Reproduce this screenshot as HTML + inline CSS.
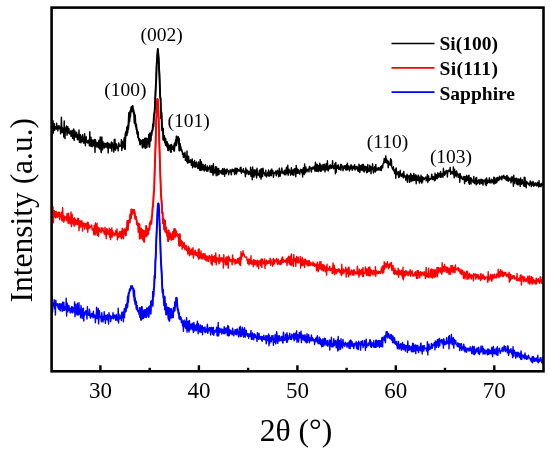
<!DOCTYPE html>
<html><head><meta charset="utf-8"><style>
html,body{margin:0;padding:0;background:#fff;}
svg{display:block;}
text{font-family:"Liberation Serif", "Times New Roman", serif;fill:#000;}
</style></head><body>
<svg width="550" height="453" viewBox="0 0 550 453">
<rect x="0" y="0" width="550" height="453" fill="#fff"/>
<g fill="none" stroke-linejoin="round" stroke-width="1.4">
<polyline stroke="#0000ff" points="52.2,296.2 52.6,311.7 53.0,303.0 53.4,305.2 53.8,305.8 54.2,299.7 54.6,308.7 55.0,303.4 55.4,315.0 55.8,300.2 56.2,304.2 56.6,305.5 57.0,304.2 57.4,303.8 57.8,306.6 58.2,308.1 58.6,304.3 59.0,309.4 59.4,303.7 59.8,306.6 60.2,310.9 60.6,305.1 61.0,303.7 61.4,306.8 61.8,308.5 62.2,311.5 62.6,302.2 63.0,306.5 63.4,310.4 63.8,302.3 64.2,307.8 64.6,310.4 65.0,307.4 65.4,306.5 65.8,309.3 66.2,298.3 66.6,316.0 67.0,302.9 67.4,304.5 67.8,311.9 68.2,309.7 68.6,305.5 69.0,305.8 69.4,310.5 69.8,308.3 70.2,313.0 70.6,308.5 71.0,308.1 71.4,312.1 71.8,306.4 72.2,306.8 72.6,312.9 73.0,310.2 73.4,307.9 73.8,307.8 74.2,312.0 74.6,302.0 75.0,316.8 75.4,310.5 75.8,304.5 76.2,313.7 76.6,307.6 77.0,314.9 77.4,303.3 77.8,312.0 78.2,315.0 78.6,313.5 79.0,302.7 79.4,314.0 79.8,313.6 80.2,309.3 80.6,317.8 81.0,305.5 81.4,315.4 81.8,308.4 82.2,318.5 82.6,309.8 83.0,311.5 83.4,308.1 83.8,321.0 84.2,312.1 84.6,313.9 85.0,315.1 85.4,312.1 85.8,310.7 86.2,312.1 86.6,312.5 87.0,319.1 87.4,306.8 87.8,314.6 88.2,313.9 88.6,315.2 89.0,315.4 89.4,309.3 89.8,311.3 90.2,317.4 90.6,318.1 91.0,314.6 91.4,313.9 91.8,313.4 92.2,316.3 92.6,313.6 93.0,317.9 93.4,311.2 93.8,317.0 94.2,314.7 94.6,317.2 95.0,315.2 95.4,322.8 95.8,315.6 96.2,317.5 96.6,307.1 97.0,318.6 97.4,314.8 97.8,318.8 98.2,308.4 98.6,323.9 99.0,317.4 99.4,310.6 99.8,315.9 100.2,315.9 100.6,318.2 101.0,318.5 101.4,321.7 101.8,312.6 102.2,319.5 102.6,316.1 103.0,322.0 103.4,316.2 103.8,319.9 104.2,311.6 104.6,318.6 105.0,315.2 105.4,323.2 105.8,316.7 106.2,315.4 106.6,316.7 107.0,319.7 107.4,314.6 107.8,316.1 108.2,320.7 108.6,324.0 109.0,312.6 109.4,316.5 109.8,315.2 110.2,315.8 110.6,321.6 111.0,319.2 111.4,316.2 111.8,318.6 112.2,317.4 112.6,317.8 113.0,312.8 113.4,318.9 113.8,318.6 114.2,315.0 114.6,317.4 115.0,315.8 115.4,317.8 115.8,320.4 116.2,314.5 116.6,317.4 117.0,319.8 117.4,317.5 117.8,320.8 118.2,308.2 118.6,323.0 119.0,313.9 119.4,318.0 119.8,318.8 120.2,318.2 120.6,317.5 121.0,314.9 121.4,320.5 121.8,312.2 122.2,315.7 122.6,317.9 123.0,311.9 123.4,321.7 123.8,313.1 124.2,317.8 124.6,308.6 125.0,310.5 125.4,311.6 125.8,311.0 126.2,304.8 126.6,308.2 127.0,303.7 127.4,306.8 127.8,296.4 128.2,301.9 128.6,293.5 129.0,293.1 129.4,292.0 129.8,289.2 130.2,290.1 130.6,288.9 131.0,286.3 131.4,287.0 131.8,288.0 132.2,286.2 132.6,288.2 133.0,288.9 133.4,288.7 133.8,296.4 134.2,290.4 134.6,301.0 135.0,298.2 135.4,304.1 135.8,301.1 136.2,302.8 136.6,308.9 137.0,305.8 137.4,309.7 137.8,310.8 138.2,310.9 138.6,311.9 139.0,310.8 139.4,314.3 139.8,308.0 140.2,317.3 140.6,311.2 141.0,319.8 141.4,316.4 141.8,307.0 142.2,318.5 142.6,314.2 143.0,312.0 143.4,318.0 143.8,312.4 144.2,310.2 144.6,316.6 145.0,314.2 145.4,314.5 145.8,310.0 146.2,317.2 146.6,314.1 147.0,308.3 147.4,312.4 147.8,312.8 148.2,310.0 148.6,316.8 149.0,307.9 149.4,306.4 149.8,308.3 150.2,309.1 150.6,313.6 151.0,301.5 151.4,305.3 151.8,304.4 152.2,300.5 152.6,305.8 153.0,291.6 153.4,296.6 153.8,289.1 154.2,286.4 154.6,275.5 155.0,278.1 155.4,261.6 155.8,255.1 156.2,242.8 156.6,233.3 157.0,224.2 157.4,213.9 157.8,206.2 158.2,203.5 158.6,203.9 159.0,209.0 159.4,219.3 159.8,228.9 160.2,239.1 160.6,252.2 161.0,262.4 161.4,268.4 161.8,276.0 162.2,285.9 162.6,292.7 163.0,289.6 163.4,296.8 163.8,299.3 164.2,305.5 164.6,296.6 165.0,309.5 165.4,309.4 165.8,303.6 166.2,314.5 166.6,308.9 167.0,308.2 167.4,312.9 167.8,307.4 168.2,313.6 168.6,319.2 169.0,308.1 169.4,320.7 169.8,311.2 170.2,317.7 170.6,313.5 171.0,309.0 171.4,317.6 171.8,316.9 172.2,311.7 172.6,313.0 173.0,317.3 173.4,310.5 173.8,307.7 174.2,310.3 174.6,310.7 175.0,302.1 175.4,306.1 175.8,303.8 176.2,298.0 176.6,297.8 177.0,300.8 177.4,307.0 177.8,310.1 178.2,309.7 178.6,314.0 179.0,313.0 179.4,318.5 179.8,316.6 180.2,319.3 180.6,317.2 181.0,318.7 181.4,322.6 181.8,319.5 182.2,321.3 182.6,325.9 183.0,321.3 183.4,331.2 183.8,321.0 184.2,320.2 184.6,326.9 185.0,323.6 185.4,321.7 185.8,328.6 186.2,320.6 186.6,317.6 187.0,332.2 187.4,322.1 187.8,330.4 188.2,321.2 188.6,323.4 189.0,332.0 189.4,320.4 189.8,328.4 190.2,329.8 190.6,324.2 191.0,326.0 191.4,326.9 191.8,328.8 192.2,323.1 192.6,329.8 193.0,327.5 193.4,332.5 193.8,322.4 194.2,325.3 194.6,330.9 195.0,325.1 195.4,329.0 195.8,327.5 196.2,330.7 196.6,324.1 197.0,328.7 197.4,321.1 197.8,329.8 198.2,333.8 198.6,323.8 199.0,327.5 199.4,326.2 199.8,332.0 200.2,328.0 200.6,325.0 201.0,332.4 201.4,328.3 201.8,330.4 202.2,325.8 202.6,334.7 203.0,327.2 203.4,328.0 203.8,327.8 204.2,329.2 204.6,331.8 205.0,327.0 205.4,332.6 205.8,329.1 206.2,332.0 206.6,329.4 207.0,327.9 207.4,324.3 207.8,333.4 208.2,331.2 208.6,328.7 209.0,330.9 209.4,327.5 209.8,329.4 210.2,327.8 210.6,335.0 211.0,328.0 211.4,328.3 211.8,327.1 212.2,331.7 212.6,334.2 213.0,328.9 213.4,327.4 213.8,335.2 214.2,331.7 214.6,330.6 215.0,330.8 215.4,332.2 215.8,329.9 216.2,331.6 216.6,327.1 217.0,335.8 217.4,328.7 217.8,335.7 218.2,322.5 218.6,335.9 219.0,332.2 219.4,328.2 219.8,332.6 220.2,332.1 220.6,331.2 221.0,328.5 221.4,331.4 221.8,334.0 222.2,332.8 222.6,329.3 223.0,331.2 223.4,331.6 223.8,333.7 224.2,326.7 224.6,329.4 225.0,333.8 225.4,328.2 225.8,331.6 226.2,332.6 226.6,332.6 227.0,327.8 227.4,335.4 227.8,325.5 228.2,336.0 228.6,326.5 229.0,330.8 229.4,335.5 229.8,329.6 230.2,330.3 230.6,331.8 231.0,333.7 231.4,330.9 231.8,331.8 232.2,334.7 232.6,328.2 233.0,331.7 233.4,331.2 233.8,335.8 234.2,332.6 234.6,333.7 235.0,329.7 235.4,331.5 235.8,334.4 236.2,329.5 236.6,334.8 237.0,332.5 237.4,328.9 237.8,332.9 238.2,331.8 238.6,336.9 239.0,336.2 239.4,327.7 239.8,332.4 240.2,326.1 240.6,336.5 241.0,332.0 241.4,329.5 241.8,336.3 242.2,327.1 242.6,334.6 243.0,333.4 243.4,329.2 243.8,337.2 244.2,334.4 244.6,327.7 245.0,331.6 245.4,337.1 245.8,332.3 246.2,330.3 246.6,334.7 247.0,333.9 247.4,333.6 247.8,336.3 248.2,333.7 248.6,338.2 249.0,335.1 249.4,334.0 249.8,336.2 250.2,336.4 250.6,334.5 251.0,330.4 251.4,339.2 251.8,333.9 252.2,339.4 252.6,333.0 253.0,336.7 253.4,335.7 253.8,339.7 254.2,333.7 254.6,335.0 255.0,337.4 255.4,334.6 255.8,337.6 256.2,336.3 256.6,337.4 257.0,341.5 257.4,332.8 257.8,337.8 258.2,336.6 258.6,339.4 259.0,333.2 259.4,337.6 259.8,338.6 260.2,339.2 260.6,336.8 261.0,336.7 261.4,336.5 261.8,340.8 262.2,341.2 262.6,336.8 263.0,338.3 263.4,339.3 263.8,335.3 264.2,339.2 264.6,338.4 265.0,339.9 265.4,338.2 265.8,335.6 266.2,343.7 266.6,341.6 267.0,335.6 267.4,340.4 267.8,339.1 268.2,340.7 268.6,334.0 269.0,345.7 269.4,335.4 269.8,343.2 270.2,337.4 270.6,338.1 271.0,339.5 271.4,341.8 271.8,335.6 272.2,339.6 272.6,338.6 273.0,335.5 273.4,345.3 273.8,338.7 274.2,338.2 274.6,342.3 275.0,334.8 275.4,340.5 275.8,343.8 276.2,339.0 276.6,331.7 277.0,333.8 277.4,341.5 277.8,343.4 278.2,336.0 278.6,339.1 279.0,340.8 279.4,335.6 279.8,340.7 280.2,340.5 280.6,338.7 281.0,338.9 281.4,336.4 281.8,340.8 282.2,336.5 282.6,342.4 283.0,343.0 283.4,332.3 283.8,333.6 284.2,340.4 284.6,339.7 285.0,340.1 285.4,339.0 285.8,334.1 286.2,336.9 286.6,342.2 287.0,332.7 287.4,342.0 287.8,335.1 288.2,339.7 288.6,337.9 289.0,338.1 289.4,338.0 289.8,333.2 290.2,339.3 290.6,336.5 291.0,337.6 291.4,339.5 291.8,334.1 292.2,335.3 292.6,335.8 293.0,336.9 293.4,339.0 293.8,333.2 294.2,340.7 294.6,335.4 295.0,335.4 295.4,333.3 295.8,339.1 296.2,337.8 296.6,330.7 297.0,342.2 297.4,338.8 297.8,334.8 298.2,337.2 298.6,342.0 299.0,336.0 299.4,332.4 299.8,338.0 300.2,336.4 300.6,336.7 301.0,331.1 301.4,342.6 301.8,334.3 302.2,338.6 302.6,336.6 303.0,339.8 303.4,335.3 303.8,335.9 304.2,340.2 304.6,340.5 305.0,334.8 305.4,341.9 305.8,336.5 306.2,336.3 306.6,342.9 307.0,333.8 307.4,342.2 307.8,335.6 308.2,340.4 308.6,334.7 309.0,338.4 309.4,342.8 309.8,337.7 310.2,338.8 310.6,337.9 311.0,340.9 311.4,334.9 311.8,338.6 312.2,340.7 312.6,337.6 313.0,339.0 313.4,340.5 313.8,339.5 314.2,339.4 314.6,344.5 315.0,340.0 315.4,341.6 315.8,338.2 316.2,339.0 316.6,337.3 317.0,341.7 317.4,335.7 317.8,342.3 318.2,343.5 318.6,343.7 319.0,340.8 319.4,337.2 319.8,343.6 320.2,338.4 320.6,344.5 321.0,339.8 321.4,343.8 321.8,346.8 322.2,340.1 322.6,346.3 323.0,338.8 323.4,340.9 323.8,346.0 324.2,344.6 324.6,338.3 325.0,343.5 325.4,338.8 325.8,344.3 326.2,345.3 326.6,341.3 327.0,341.7 327.4,340.4 327.8,346.2 328.2,344.7 328.6,343.6 329.0,343.2 329.4,339.9 329.8,350.0 330.2,340.8 330.6,343.4 331.0,345.8 331.4,337.2 331.8,346.9 332.2,343.6 332.6,345.0 333.0,346.7 333.4,343.0 333.8,338.6 334.2,345.8 334.6,345.0 335.0,344.0 335.4,340.5 335.8,341.7 336.2,347.9 336.6,344.0 337.0,343.4 337.4,339.6 337.8,351.1 338.2,336.5 338.6,347.5 339.0,349.8 339.4,340.5 339.8,344.9 340.2,340.7 340.6,349.3 341.0,338.8 341.4,346.7 341.8,344.1 342.2,341.3 342.6,348.0 343.0,339.4 343.4,344.7 343.8,345.3 344.2,343.4 344.6,346.2 345.0,346.0 345.4,342.3 345.8,343.6 346.2,344.1 346.6,344.4 347.0,347.2 347.4,342.9 347.8,346.0 348.2,343.9 348.6,342.7 349.0,348.2 349.4,340.9 349.8,346.4 350.2,348.5 350.6,339.9 351.0,346.3 351.4,341.0 351.8,346.0 352.2,341.9 352.6,346.2 353.0,344.1 353.4,346.0 353.8,348.6 354.2,343.2 354.6,346.1 355.0,343.8 355.4,344.4 355.8,343.2 356.2,341.6 356.6,347.7 357.0,348.8 357.4,343.6 357.8,342.8 358.2,349.8 358.6,341.3 359.0,344.0 359.4,342.7 359.8,344.2 360.2,345.6 360.6,350.1 361.0,341.3 361.4,342.5 361.8,344.8 362.2,345.1 362.6,340.8 363.0,347.6 363.4,346.2 363.8,344.4 364.2,345.6 364.6,340.5 365.0,342.3 365.4,350.3 365.8,345.3 366.2,339.1 366.6,347.3 367.0,344.2 367.4,345.8 367.8,344.1 368.2,342.9 368.6,345.6 369.0,344.5 369.4,344.0 369.8,339.8 370.2,339.7 370.6,346.8 371.0,341.4 371.4,347.3 371.8,345.6 372.2,343.8 372.6,342.9 373.0,344.9 373.4,346.9 373.8,340.6 374.2,347.5 374.6,344.5 375.0,343.7 375.4,347.2 375.8,340.1 376.2,347.3 376.6,340.2 377.0,343.3 377.4,342.3 377.8,346.4 378.2,340.6 378.6,345.0 379.0,340.5 379.4,347.5 379.8,346.0 380.2,340.7 380.6,346.3 381.0,341.3 381.4,346.5 381.8,338.7 382.2,337.3 382.6,346.9 383.0,338.0 383.4,337.7 383.8,339.5 384.2,336.1 384.6,340.6 385.0,335.7 385.4,342.8 385.8,336.6 386.2,331.6 386.6,335.0 387.0,336.7 387.4,331.8 387.8,338.0 388.2,335.4 388.6,333.5 389.0,335.2 389.4,337.6 389.8,338.6 390.2,337.8 390.6,334.6 391.0,339.2 391.4,334.6 391.8,340.3 392.2,335.9 392.6,342.6 393.0,335.9 393.4,340.0 393.8,342.5 394.2,343.0 394.6,337.8 395.0,343.4 395.4,344.2 395.8,343.8 396.2,341.5 396.6,345.6 397.0,343.7 397.4,348.6 397.8,344.3 398.2,341.2 398.6,342.0 399.0,349.1 399.4,348.5 399.8,344.6 400.2,348.0 400.6,343.7 401.0,343.7 401.4,350.2 401.8,345.7 402.2,348.1 402.6,342.4 403.0,349.2 403.4,345.1 403.8,349.8 404.2,344.4 404.6,346.4 405.0,346.6 405.4,351.1 405.8,345.5 406.2,345.4 406.6,346.0 407.0,346.4 407.4,352.5 407.8,341.0 408.2,348.1 408.6,350.4 409.0,349.6 409.4,345.6 409.8,349.8 410.2,348.5 410.6,349.1 411.0,346.5 411.4,351.8 411.8,346.1 412.2,351.4 412.6,343.2 413.0,351.9 413.4,343.7 413.8,346.3 414.2,351.5 414.6,345.5 415.0,350.5 415.4,345.0 415.8,353.6 416.2,346.0 416.6,345.5 417.0,350.3 417.4,350.1 417.8,345.2 418.2,350.6 418.6,352.5 419.0,347.4 419.4,347.0 419.8,347.0 420.2,350.5 420.6,343.8 421.0,343.2 421.4,351.1 421.8,346.7 422.2,354.0 422.6,346.1 423.0,345.7 423.4,346.9 423.8,351.1 424.2,345.5 424.6,348.0 425.0,348.8 425.4,348.5 425.8,348.2 426.2,348.2 426.6,351.0 427.0,350.2 427.4,341.6 427.8,354.9 428.2,344.4 428.6,350.5 429.0,344.1 429.4,349.3 429.8,347.4 430.2,347.2 430.6,349.0 431.0,347.2 431.4,343.5 431.8,347.7 432.2,348.2 432.6,346.7 433.0,344.1 433.4,345.4 433.8,345.3 434.2,342.6 434.6,343.2 435.0,349.9 435.4,340.9 435.8,344.6 436.2,341.6 436.6,347.3 437.0,345.2 437.4,339.6 437.8,343.9 438.2,339.6 438.6,347.2 439.0,341.5 439.4,338.4 439.8,345.7 440.2,340.6 440.6,341.9 441.0,341.7 441.4,339.4 441.8,341.2 442.2,343.9 442.6,340.7 443.0,339.7 443.4,348.1 443.8,338.7 444.2,341.1 444.6,341.4 445.0,344.9 445.4,343.7 445.8,341.6 446.2,344.1 446.6,337.6 447.0,343.6 447.4,341.7 447.8,342.9 448.2,343.3 448.6,336.6 449.0,348.9 449.4,335.4 449.8,343.8 450.2,343.1 450.6,342.4 451.0,340.9 451.4,334.4 451.8,343.0 452.2,344.8 452.6,338.3 453.0,340.4 453.4,337.7 453.8,348.1 454.2,341.6 454.6,339.5 455.0,343.5 455.4,342.8 455.8,340.6 456.2,344.3 456.6,344.7 457.0,344.9 457.4,346.5 457.8,342.9 458.2,343.8 458.6,346.9 459.0,343.5 459.4,343.8 459.8,350.6 460.2,343.9 460.6,347.5 461.0,348.3 461.4,343.7 461.8,350.4 462.2,347.7 462.6,346.9 463.0,349.0 463.4,345.8 463.8,344.2 464.2,350.8 464.6,346.8 465.0,352.0 465.4,348.2 465.8,347.3 466.2,349.8 466.6,352.2 467.0,349.9 467.4,348.5 467.8,349.8 468.2,348.2 468.6,349.6 469.0,351.1 469.4,348.5 469.8,350.6 470.2,346.8 470.6,347.5 471.0,348.3 471.4,351.3 471.8,353.6 472.2,350.9 472.6,346.1 473.0,347.9 473.4,354.2 473.8,350.2 474.2,346.5 474.6,354.6 475.0,349.3 475.4,353.2 475.8,349.4 476.2,352.1 476.6,350.0 477.0,347.9 477.4,351.4 477.8,349.4 478.2,353.5 478.6,347.3 479.0,348.6 479.4,354.5 479.8,352.6 480.2,352.6 480.6,351.5 481.0,346.0 481.4,351.5 481.8,350.8 482.2,351.8 482.6,346.2 483.0,354.1 483.4,351.9 483.8,348.7 484.2,352.9 484.6,353.9 485.0,349.9 485.4,353.8 485.8,352.3 486.2,351.0 486.6,351.8 487.0,350.2 487.4,354.9 487.8,348.9 488.2,350.7 488.6,354.3 489.0,349.1 489.4,353.7 489.8,353.6 490.2,350.5 490.6,351.9 491.0,353.7 491.4,352.3 491.8,347.3 492.2,350.9 492.6,356.6 493.0,350.9 493.4,346.5 493.8,351.5 494.2,353.6 494.6,349.5 495.0,354.1 495.4,351.2 495.8,352.6 496.2,348.2 496.6,354.5 497.0,355.0 497.4,346.8 497.8,355.3 498.2,351.6 498.6,351.1 499.0,349.9 499.4,348.2 499.8,350.2 500.2,353.4 500.6,351.5 501.0,351.6 501.4,350.5 501.8,350.6 502.2,347.5 502.6,347.5 503.0,351.6 503.4,350.2 503.8,348.8 504.2,345.7 504.6,350.1 505.0,346.6 505.4,351.6 505.8,346.8 506.2,350.5 506.6,350.5 507.0,349.6 507.4,352.8 507.8,345.7 508.2,346.8 508.6,355.5 509.0,352.6 509.4,352.2 509.8,349.8 510.2,352.2 510.6,351.1 511.0,348.7 511.4,352.4 511.8,354.1 512.2,350.4 512.6,357.6 513.0,346.7 513.4,354.0 513.8,356.1 514.2,350.3 514.6,351.6 515.0,352.0 515.4,353.8 515.8,358.1 516.2,352.8 516.6,354.6 517.0,352.3 517.4,356.9 517.8,353.5 518.2,352.3 518.6,354.9 519.0,355.8 519.4,357.2 519.8,353.3 520.2,356.3 520.6,359.1 521.0,350.9 521.4,353.8 521.8,359.5 522.2,355.4 522.6,355.1 523.0,356.8 523.4,355.1 523.8,357.9 524.2,355.0 524.6,358.8 525.0,353.0 525.4,356.6 525.8,358.3 526.2,355.9 526.6,359.4 527.0,356.4 527.4,356.4 527.8,358.8 528.2,356.3 528.6,355.1 529.0,357.5 529.4,357.8 529.8,358.2 530.2,359.2 530.6,360.3 531.0,358.5 531.4,361.8 531.8,359.2 532.2,356.7 532.6,362.8 533.0,359.4 533.4,356.5 533.8,360.4 534.2,361.2 534.6,358.3 535.0,361.2 535.4,358.9 535.8,360.5 536.2,357.9 536.6,360.9 537.0,358.4 537.4,361.7 537.8,355.2 538.2,362.8 538.6,362.2 539.0,359.6 539.4,359.2 539.8,361.3 540.2,357.6 540.6,359.5 541.0,360.6 541.4,360.4 541.8,362.7 542.2,357.1 542.6,363.8"/>
<polyline stroke="#ff0000" points="52.2,211.3 52.6,213.0 53.0,206.7 53.4,222.8 53.8,213.7 54.2,210.5 54.6,216.7 55.0,213.3 55.4,211.8 55.8,218.0 56.2,211.5 56.6,213.9 57.0,212.6 57.4,217.4 57.8,213.6 58.2,216.7 58.6,212.2 59.0,216.6 59.4,212.3 59.8,219.6 60.2,214.6 60.6,216.3 61.0,216.5 61.4,212.2 61.8,220.3 62.2,221.1 62.6,207.8 63.0,214.4 63.4,215.4 63.8,222.1 64.2,215.9 64.6,220.2 65.0,217.6 65.4,216.9 65.8,218.2 66.2,216.8 66.6,220.9 67.0,213.3 67.4,219.1 67.8,220.0 68.2,223.6 68.6,213.3 69.0,217.1 69.4,219.4 69.8,223.2 70.2,217.0 70.6,223.9 71.0,211.9 71.4,226.6 71.8,221.1 72.2,214.2 72.6,223.4 73.0,223.9 73.4,218.8 73.8,223.7 74.2,226.2 74.6,217.8 75.0,220.0 75.4,219.7 75.8,224.9 76.2,220.1 76.6,221.8 77.0,222.2 77.4,224.4 77.8,218.2 78.2,220.0 78.6,218.4 79.0,230.7 79.4,221.2 79.8,227.6 80.2,220.8 80.6,221.5 81.0,226.5 81.4,222.9 81.8,220.6 82.2,223.9 82.6,231.1 83.0,222.6 83.4,225.4 83.8,223.5 84.2,223.7 84.6,229.1 85.0,223.7 85.4,223.7 85.8,226.8 86.2,223.7 86.6,228.3 87.0,229.3 87.4,222.2 87.8,232.2 88.2,222.5 88.6,228.6 89.0,224.5 89.4,228.1 89.8,228.0 90.2,226.3 90.6,226.5 91.0,227.1 91.4,226.8 91.8,225.0 92.2,230.1 92.6,229.9 93.0,230.3 93.4,228.8 93.8,234.5 94.2,225.5 94.6,227.0 95.0,235.0 95.4,222.9 95.8,233.7 96.2,224.9 96.6,232.0 97.0,223.3 97.4,235.4 97.8,227.7 98.2,227.3 98.6,236.2 99.0,229.3 99.4,228.9 99.8,228.0 100.2,231.4 100.6,230.0 101.0,232.9 101.4,231.7 101.8,227.6 102.2,230.5 102.6,230.5 103.0,228.3 103.4,231.9 103.8,232.1 104.2,233.6 104.6,234.2 105.0,227.3 105.4,234.8 105.8,229.9 106.2,238.7 106.6,228.7 107.0,233.9 107.4,229.1 107.8,231.9 108.2,234.6 108.6,231.5 109.0,234.6 109.4,228.2 109.8,237.6 110.2,229.7 110.6,239.6 111.0,229.8 111.4,237.0 111.8,228.0 112.2,237.1 112.6,230.6 113.0,233.9 113.4,234.8 113.8,233.0 114.2,235.3 114.6,235.7 115.0,234.7 115.4,232.9 115.8,230.7 116.2,234.3 116.6,235.1 117.0,228.9 117.4,239.9 117.8,232.6 118.2,234.2 118.6,237.5 119.0,234.8 119.4,234.1 119.8,231.5 120.2,237.0 120.6,235.0 121.0,231.5 121.4,238.7 121.8,234.0 122.2,228.1 122.6,237.6 123.0,230.3 123.4,238.8 123.8,233.8 124.2,228.9 124.6,232.1 125.0,233.9 125.4,230.8 125.8,235.4 126.2,229.7 126.6,227.4 127.0,230.3 127.4,221.0 127.8,229.9 128.2,226.4 128.6,221.6 129.0,220.4 129.4,222.6 129.8,222.3 130.2,215.5 130.6,213.7 131.0,218.1 131.4,209.5 131.8,214.6 132.2,210.8 132.6,212.8 133.0,209.8 133.4,213.4 133.8,211.3 134.2,210.2 134.6,212.3 135.0,216.3 135.4,218.9 135.8,216.4 136.2,219.2 136.6,220.1 137.0,224.3 137.4,223.5 137.8,225.2 138.2,223.5 138.6,232.2 139.0,230.4 139.4,224.3 139.8,238.6 140.2,229.7 140.6,229.6 141.0,228.4 141.4,237.7 141.8,233.8 142.2,231.2 142.6,230.1 143.0,239.6 143.4,230.7 143.8,233.7 144.2,241.8 144.6,234.9 145.0,232.8 145.4,230.7 145.8,235.5 146.2,225.9 146.6,236.2 147.0,229.8 147.4,229.3 147.8,228.8 148.2,234.0 148.6,228.9 149.0,228.9 149.4,229.6 149.8,223.1 150.2,223.5 150.6,221.3 151.0,224.1 151.4,222.6 151.8,216.2 152.2,216.5 152.6,207.1 153.0,206.9 153.4,199.4 153.8,191.7 154.2,190.3 154.6,174.3 155.0,161.0 155.4,150.0 155.8,137.6 156.2,121.8 156.6,113.1 157.0,101.1 157.4,99.0 157.8,99.4 158.2,107.3 158.6,116.9 159.0,130.3 159.4,145.2 159.8,158.5 160.2,171.3 160.6,182.5 161.0,194.6 161.4,199.1 161.8,204.1 162.2,213.2 162.6,212.6 163.0,223.3 163.4,220.7 163.8,219.5 164.2,229.5 164.6,228.0 165.0,220.7 165.4,231.8 165.8,230.6 166.2,227.4 166.6,232.6 167.0,232.4 167.4,236.5 167.8,234.4 168.2,241.1 168.6,230.4 169.0,239.3 169.4,234.6 169.8,237.0 170.2,233.3 170.6,233.7 171.0,237.7 171.4,239.7 171.8,239.2 172.2,235.2 172.6,235.9 173.0,232.0 173.4,239.3 173.8,234.5 174.2,229.3 174.6,232.8 175.0,229.3 175.4,236.9 175.8,230.8 176.2,231.8 176.6,234.7 177.0,235.1 177.4,234.1 177.8,234.5 178.2,236.8 178.6,236.8 179.0,243.9 179.4,245.8 179.8,234.1 180.2,245.2 180.6,243.7 181.0,240.3 181.4,245.8 181.8,241.2 182.2,249.2 182.6,241.7 183.0,246.5 183.4,247.3 183.8,244.0 184.2,242.6 184.6,248.1 185.0,249.8 185.4,246.1 185.8,248.5 186.2,245.1 186.6,250.4 187.0,250.3 187.4,248.1 187.8,254.0 188.2,246.3 188.6,247.6 189.0,247.7 189.4,255.7 189.8,248.8 190.2,253.5 190.6,250.8 191.0,254.8 191.4,252.4 191.8,249.0 192.2,253.3 192.6,254.5 193.0,247.8 193.4,258.1 193.8,253.7 194.2,253.7 194.6,251.2 195.0,254.4 195.4,250.3 195.8,255.5 196.2,252.4 196.6,255.2 197.0,252.9 197.4,255.8 197.8,257.1 198.2,249.7 198.6,259.1 199.0,248.7 199.4,252.8 199.8,258.2 200.2,255.7 200.6,256.7 201.0,251.0 201.4,258.2 201.8,256.5 202.2,259.1 202.6,254.2 203.0,257.9 203.4,253.4 203.8,257.7 204.2,256.0 204.6,259.4 205.0,253.6 205.4,256.6 205.8,260.0 206.2,261.0 206.6,255.9 207.0,257.9 207.4,256.5 207.8,261.1 208.2,257.8 208.6,261.6 209.0,256.5 209.4,255.5 209.8,258.5 210.2,257.0 210.6,257.0 211.0,263.7 211.4,258.9 211.8,254.7 212.2,265.2 212.6,257.0 213.0,256.4 213.4,261.6 213.8,258.5 214.2,257.5 214.6,255.8 215.0,262.4 215.4,260.2 215.8,252.9 216.2,264.8 216.6,260.4 217.0,257.7 217.4,260.8 217.8,259.0 218.2,258.3 218.6,260.4 219.0,263.9 219.4,254.6 219.8,262.9 220.2,260.3 220.6,258.3 221.0,260.3 221.4,257.6 221.8,260.4 222.2,261.7 222.6,261.2 223.0,257.8 223.4,268.0 223.8,254.7 224.2,261.8 224.6,259.9 225.0,260.0 225.4,264.5 225.8,257.7 226.2,264.7 226.6,261.6 227.0,256.6 227.4,264.9 227.8,257.8 228.2,268.3 228.6,256.0 229.0,259.2 229.4,257.7 229.8,260.6 230.2,261.5 230.6,259.5 231.0,259.5 231.4,261.2 231.8,261.6 232.2,264.9 232.6,254.9 233.0,262.2 233.4,259.6 233.8,258.8 234.2,260.3 234.6,260.8 235.0,264.2 235.4,259.6 235.8,260.1 236.2,263.4 236.6,260.9 237.0,260.1 237.4,262.3 237.8,258.4 238.2,263.5 238.6,260.8 239.0,258.7 239.4,257.7 239.8,265.0 240.2,257.0 240.6,265.5 241.0,251.6 241.4,259.7 241.8,253.6 242.2,256.3 242.6,256.0 243.0,250.8 243.4,254.7 243.8,254.4 244.2,254.3 244.6,256.2 245.0,257.3 245.4,257.1 245.8,257.0 246.2,257.2 246.6,257.0 247.0,259.8 247.4,260.3 247.8,263.3 248.2,259.4 248.6,259.1 249.0,265.0 249.4,259.1 249.8,261.3 250.2,262.7 250.6,263.6 251.0,255.8 251.4,263.1 251.8,264.4 252.2,261.2 252.6,260.9 253.0,262.4 253.4,266.6 253.8,259.4 254.2,264.9 254.6,263.4 255.0,260.4 255.4,264.3 255.8,260.9 256.2,261.8 256.6,260.9 257.0,266.4 257.4,260.5 257.8,262.0 258.2,260.8 258.6,268.7 259.0,261.9 259.4,261.4 259.8,261.3 260.2,260.1 260.6,265.6 261.0,263.0 261.4,259.0 261.8,267.5 262.2,262.9 262.6,259.3 263.0,262.8 263.4,262.5 263.8,263.7 264.2,262.1 264.6,259.0 265.0,268.5 265.4,261.3 265.8,265.1 266.2,263.8 266.6,260.3 267.0,263.6 267.4,263.8 267.8,263.3 268.2,261.0 268.6,261.2 269.0,263.4 269.4,260.5 269.8,262.2 270.2,258.3 270.6,265.4 271.0,259.7 271.4,262.4 271.8,262.9 272.2,263.0 272.6,266.2 273.0,259.9 273.4,258.4 273.8,264.3 274.2,260.4 274.6,263.7 275.0,259.7 275.4,261.2 275.8,261.6 276.2,261.0 276.6,258.4 277.0,262.7 277.4,262.6 277.8,264.5 278.2,259.2 278.6,261.1 279.0,263.4 279.4,261.9 279.8,264.4 280.2,260.5 280.6,260.5 281.0,264.5 281.4,263.0 281.8,258.0 282.2,262.3 282.6,257.0 283.0,262.6 283.4,259.5 283.8,261.8 284.2,260.2 284.6,261.3 285.0,260.9 285.4,262.2 285.8,260.7 286.2,259.2 286.6,258.6 287.0,265.5 287.4,262.3 287.8,257.7 288.2,262.6 288.6,256.3 289.0,259.1 289.4,262.2 289.8,264.4 290.2,256.1 290.6,260.1 291.0,265.5 291.4,253.9 291.8,264.8 292.2,260.8 292.6,259.5 293.0,261.4 293.4,266.5 293.8,254.4 294.2,261.5 294.6,260.6 295.0,259.4 295.4,258.6 295.8,266.3 296.2,259.1 296.6,256.4 297.0,261.7 297.4,262.8 297.8,261.3 298.2,257.1 298.6,262.8 299.0,261.8 299.4,261.6 299.8,261.5 300.2,256.4 300.6,268.1 301.0,259.3 301.4,265.3 301.8,265.6 302.2,257.2 302.6,259.0 303.0,265.5 303.4,260.2 303.8,261.1 304.2,260.3 304.6,267.5 305.0,258.9 305.4,259.7 305.8,263.3 306.2,260.5 306.6,264.6 307.0,261.5 307.4,261.0 307.8,265.8 308.2,260.7 308.6,265.7 309.0,265.2 309.4,260.8 309.8,262.5 310.2,265.0 310.6,265.5 311.0,262.6 311.4,264.3 311.8,263.9 312.2,265.0 312.6,265.4 313.0,262.0 313.4,264.5 313.8,265.6 314.2,263.3 314.6,266.3 315.0,266.2 315.4,264.6 315.8,264.1 316.2,264.7 316.6,270.8 317.0,265.5 317.4,262.2 317.8,265.8 318.2,271.7 318.6,267.3 319.0,264.7 319.4,269.1 319.8,261.8 320.2,268.9 320.6,268.7 321.0,261.8 321.4,268.0 321.8,270.2 322.2,268.9 322.6,264.6 323.0,269.1 323.4,271.0 323.8,264.8 324.2,265.4 324.6,269.7 325.0,267.3 325.4,271.7 325.8,266.9 326.2,266.4 326.6,275.1 327.0,264.2 327.4,270.4 327.8,269.7 328.2,269.7 328.6,268.3 329.0,270.2 329.4,268.2 329.8,266.1 330.2,270.8 330.6,269.3 331.0,269.4 331.4,270.1 331.8,268.1 332.2,273.6 332.6,271.6 333.0,263.0 333.4,273.0 333.8,268.5 334.2,265.2 334.6,274.7 335.0,268.3 335.4,270.4 335.8,269.5 336.2,273.8 336.6,271.9 337.0,269.5 337.4,271.8 337.8,269.5 338.2,271.2 338.6,268.9 339.0,271.9 339.4,269.2 339.8,272.7 340.2,272.3 340.6,270.6 341.0,273.3 341.4,275.6 341.8,264.2 342.2,274.1 342.6,269.9 343.0,271.0 343.4,268.9 343.8,273.3 344.2,270.7 344.6,270.3 345.0,271.7 345.4,270.5 345.8,267.1 346.2,277.1 346.6,269.5 347.0,269.9 347.4,273.6 347.8,269.8 348.2,267.8 348.6,276.7 349.0,266.9 349.4,273.6 349.8,272.4 350.2,274.8 350.6,272.8 351.0,270.7 351.4,270.0 351.8,272.1 352.2,275.0 352.6,274.6 353.0,270.9 353.4,269.9 353.8,275.2 354.2,269.9 354.6,271.7 355.0,272.0 355.4,273.8 355.8,272.0 356.2,274.0 356.6,273.7 357.0,271.6 357.4,266.3 357.8,271.5 358.2,274.8 358.6,271.9 359.0,277.1 359.4,269.3 359.8,272.0 360.2,274.6 360.6,273.4 361.0,270.4 361.4,273.7 361.8,269.2 362.2,271.8 362.6,276.3 363.0,267.6 363.4,276.3 363.8,272.7 364.2,273.2 364.6,273.4 365.0,272.4 365.4,266.9 365.8,273.0 366.2,272.4 366.6,275.2 367.0,268.7 367.4,272.4 367.8,272.5 368.2,275.8 368.6,267.5 369.0,271.3 369.4,275.6 369.8,266.9 370.2,276.0 370.6,271.0 371.0,269.5 371.4,273.6 371.8,270.7 372.2,274.1 372.6,273.0 373.0,275.2 373.4,270.4 373.8,272.6 374.2,271.0 374.6,273.1 375.0,274.7 375.4,266.7 375.8,276.3 376.2,270.3 376.6,273.2 377.0,272.9 377.4,273.7 377.8,271.7 378.2,271.1 378.6,273.4 379.0,271.8 379.4,271.7 379.8,272.8 380.2,273.6 380.6,270.9 381.0,271.7 381.4,268.2 381.8,272.2 382.2,266.3 382.6,273.6 383.0,265.9 383.4,272.2 383.8,272.2 384.2,261.8 384.6,269.4 385.0,264.5 385.4,263.3 385.8,263.8 386.2,267.3 386.6,267.5 387.0,264.3 387.4,261.8 387.8,265.4 388.2,266.6 388.6,268.9 389.0,264.3 389.4,265.6 389.8,267.3 390.2,263.1 390.6,265.3 391.0,265.3 391.4,262.5 391.8,270.2 392.2,267.9 392.6,270.0 393.0,265.4 393.4,269.8 393.8,273.7 394.2,270.7 394.6,274.2 395.0,268.3 395.4,273.8 395.8,270.7 396.2,274.1 396.6,271.2 397.0,274.6 397.4,274.5 397.8,272.9 398.2,268.1 398.6,277.3 399.0,272.7 399.4,270.2 399.8,272.5 400.2,274.3 400.6,274.3 401.0,271.4 401.4,270.2 401.8,275.9 402.2,273.2 402.6,278.3 403.0,267.3 403.4,279.9 403.8,273.8 404.2,271.7 404.6,276.5 405.0,271.4 405.4,275.4 405.8,270.6 406.2,274.5 406.6,271.1 407.0,271.4 407.4,274.9 407.8,272.4 408.2,275.6 408.6,275.5 409.0,271.5 409.4,273.9 409.8,273.9 410.2,269.7 410.6,276.3 411.0,273.3 411.4,273.5 411.8,271.3 412.2,270.8 412.6,275.7 413.0,274.7 413.4,276.1 413.8,274.4 414.2,275.4 414.6,272.6 415.0,275.7 415.4,271.8 415.8,275.4 416.2,275.0 416.6,278.3 417.0,270.9 417.4,270.8 417.8,278.4 418.2,270.4 418.6,274.7 419.0,273.3 419.4,272.3 419.8,277.9 420.2,273.4 420.6,271.8 421.0,274.8 421.4,272.9 421.8,275.8 422.2,272.3 422.6,272.8 423.0,273.6 423.4,273.9 423.8,275.2 424.2,271.7 424.6,275.0 425.0,275.1 425.4,278.4 425.8,272.9 426.2,267.5 426.6,276.7 427.0,273.8 427.4,275.2 427.8,277.0 428.2,273.6 428.6,268.2 429.0,277.6 429.4,273.8 429.8,274.7 430.2,276.3 430.6,269.9 431.0,277.6 431.4,269.0 431.8,276.0 432.2,274.5 432.6,278.0 433.0,269.2 433.4,270.8 433.8,276.9 434.2,270.9 434.6,277.2 435.0,269.4 435.4,271.7 435.8,276.2 436.2,270.9 436.6,274.0 437.0,267.5 437.4,276.7 437.8,267.8 438.2,273.3 438.6,267.4 439.0,268.3 439.4,271.4 439.8,270.4 440.2,272.5 440.6,267.9 441.0,270.0 441.4,269.2 441.8,274.3 442.2,262.8 442.6,272.0 443.0,266.4 443.4,269.0 443.8,266.9 444.2,271.6 444.6,264.5 445.0,267.5 445.4,270.1 445.8,266.9 446.2,272.2 446.6,270.6 447.0,267.0 447.4,272.5 447.8,267.7 448.2,271.0 448.6,270.4 449.0,274.4 449.4,268.2 449.8,268.6 450.2,269.8 450.6,274.2 451.0,265.5 451.4,271.4 451.8,270.0 452.2,265.4 452.6,272.0 453.0,272.4 453.4,268.8 453.8,267.3 454.2,271.8 454.6,269.4 455.0,272.7 455.4,265.0 455.8,269.2 456.2,269.7 456.6,268.9 457.0,269.7 457.4,269.2 457.8,268.4 458.2,267.6 458.6,271.1 459.0,268.4 459.4,270.5 459.8,271.4 460.2,273.3 460.6,273.1 461.0,269.1 461.4,274.5 461.8,274.2 462.2,272.1 462.6,270.1 463.0,271.3 463.4,278.2 463.8,275.0 464.2,273.8 464.6,272.0 465.0,279.0 465.4,275.5 465.8,273.3 466.2,274.6 466.6,271.4 467.0,279.2 467.4,271.1 467.8,278.8 468.2,276.1 468.6,274.8 469.0,278.7 469.4,273.1 469.8,277.3 470.2,276.7 470.6,275.4 471.0,274.7 471.4,279.0 471.8,275.3 472.2,275.1 472.6,276.0 473.0,276.6 473.4,280.7 473.8,273.6 474.2,275.6 474.6,274.4 475.0,275.1 475.4,274.0 475.8,279.2 476.2,276.2 476.6,274.4 477.0,274.8 477.4,277.8 477.8,276.0 478.2,274.6 478.6,279.0 479.0,276.7 479.4,276.6 479.8,278.6 480.2,274.7 480.6,280.6 481.0,273.4 481.4,279.4 481.8,277.9 482.2,276.0 482.6,278.4 483.0,274.3 483.4,275.9 483.8,278.9 484.2,276.3 484.6,279.6 485.0,276.9 485.4,278.8 485.8,277.5 486.2,277.7 486.6,277.6 487.0,276.8 487.4,277.2 487.8,282.4 488.2,271.7 488.6,279.5 489.0,280.0 489.4,277.3 489.8,280.0 490.2,277.0 490.6,274.4 491.0,278.4 491.4,275.1 491.8,281.2 492.2,279.1 492.6,274.7 493.0,278.9 493.4,275.7 493.8,274.7 494.2,277.8 494.6,274.2 495.0,277.5 495.4,277.7 495.8,277.6 496.2,278.0 496.6,273.9 497.0,276.8 497.4,276.3 497.8,276.2 498.2,269.3 498.6,277.1 499.0,277.6 499.4,271.6 499.8,276.5 500.2,275.9 500.6,269.6 501.0,276.1 501.4,274.8 501.8,273.8 502.2,270.9 502.6,276.5 503.0,272.4 503.4,276.3 503.8,273.9 504.2,272.4 504.6,275.1 505.0,272.7 505.4,273.8 505.8,272.2 506.2,276.1 506.6,276.7 507.0,274.3 507.4,275.0 507.8,274.2 508.2,275.3 508.6,277.9 509.0,272.1 509.4,282.1 509.8,273.8 510.2,280.9 510.6,276.4 511.0,274.6 511.4,279.0 511.8,276.8 512.2,277.9 512.6,278.4 513.0,275.5 513.4,277.1 513.8,277.7 514.2,275.6 514.6,279.1 515.0,278.8 515.4,278.3 515.8,278.3 516.2,277.3 516.6,280.4 517.0,273.4 517.4,280.1 517.8,278.4 518.2,280.8 518.6,278.9 519.0,279.5 519.4,277.9 519.8,280.7 520.2,275.8 520.6,280.3 521.0,274.8 521.4,285.0 521.8,280.3 522.2,276.2 522.6,278.4 523.0,276.3 523.4,279.0 523.8,281.6 524.2,279.2 524.6,277.0 525.0,280.6 525.4,279.2 525.8,281.7 526.2,280.9 526.6,278.8 527.0,280.7 527.4,280.1 527.8,276.2 528.2,283.2 528.6,280.1 529.0,282.0 529.4,276.0 529.8,284.2 530.2,278.5 530.6,281.9 531.0,282.7 531.4,276.4 531.8,279.9 532.2,284.2 532.6,277.4 533.0,280.3 533.4,283.1 533.8,279.7 534.2,282.6 534.6,280.5 535.0,280.4 535.4,282.8 535.8,284.0 536.2,278.1 536.6,283.9 537.0,281.3 537.4,279.7 537.8,281.6 538.2,278.5 538.6,280.8 539.0,282.1 539.4,280.4 539.8,283.4 540.2,276.8 540.6,281.8 541.0,280.0 541.4,281.3 541.8,283.3 542.2,277.2 542.6,283.9"/>
<polyline stroke="#000000" points="52.2,128.8 52.6,125.9 53.0,120.7 53.4,133.1 53.8,126.3 54.2,123.6 54.6,130.3 55.0,126.9 55.4,127.2 55.8,126.5 56.2,129.2 56.6,123.1 57.0,128.4 57.4,125.9 57.8,130.9 58.2,126.4 58.6,126.5 59.0,125.6 59.4,128.8 59.8,128.7 60.2,127.2 60.6,133.9 61.0,129.4 61.4,117.2 61.8,127.8 62.2,132.6 62.6,127.9 63.0,131.0 63.4,129.8 63.8,137.1 64.2,120.9 64.6,131.1 65.0,138.6 65.4,128.2 65.8,131.5 66.2,127.3 66.6,125.9 67.0,135.3 67.4,131.3 67.8,126.7 68.2,131.8 68.6,133.1 69.0,128.7 69.4,134.0 69.8,133.0 70.2,132.6 70.6,130.9 71.0,136.4 71.4,135.3 71.8,132.7 72.2,130.1 72.6,138.4 73.0,130.8 73.4,138.7 73.8,128.9 74.2,140.5 74.6,133.1 75.0,130.9 75.4,137.1 75.8,136.7 76.2,136.9 76.6,132.1 77.0,134.6 77.4,139.8 77.8,134.8 78.2,139.0 78.6,139.5 79.0,130.0 79.4,142.2 79.8,141.7 80.2,134.5 80.6,136.1 81.0,142.9 81.4,138.0 81.8,141.4 82.2,135.9 82.6,134.7 83.0,142.0 83.4,138.1 83.8,143.2 84.2,138.8 84.6,133.8 85.0,139.3 85.4,145.7 85.8,140.8 86.2,136.8 86.6,141.9 87.0,142.3 87.4,141.6 87.8,143.1 88.2,140.2 88.6,140.4 89.0,140.7 89.4,145.7 89.8,131.8 90.2,146.0 90.6,142.4 91.0,137.2 91.4,146.3 91.8,139.5 92.2,146.8 92.6,140.5 93.0,145.3 93.4,145.7 93.8,141.9 94.2,139.4 94.6,140.0 95.0,152.4 95.4,139.7 95.8,141.6 96.2,145.7 96.6,143.0 97.0,147.3 97.4,142.6 97.8,144.3 98.2,142.0 98.6,147.5 99.0,140.3 99.4,149.0 99.8,148.6 100.2,136.9 100.6,139.9 101.0,152.0 101.4,152.4 101.8,136.9 102.2,143.2 102.6,149.8 103.0,141.6 103.4,145.5 103.8,145.4 104.2,148.1 104.6,143.3 105.0,147.4 105.4,144.7 105.8,143.4 106.2,146.5 106.6,143.5 107.0,147.8 107.4,142.4 107.8,144.7 108.2,152.9 108.6,143.1 109.0,146.1 109.4,147.9 109.8,143.9 110.2,146.3 110.6,148.0 111.0,146.3 111.4,142.0 111.8,151.1 112.2,142.8 112.6,144.1 113.0,145.4 113.4,146.8 113.8,152.1 114.2,139.5 114.6,149.0 115.0,139.2 115.4,150.2 115.8,149.0 116.2,143.8 116.6,144.6 117.0,148.0 117.4,147.8 117.8,146.8 118.2,150.9 118.6,142.9 119.0,143.7 119.4,146.5 119.8,145.7 120.2,146.1 120.6,145.2 121.0,145.9 121.4,139.7 121.8,150.5 122.2,141.3 122.6,141.7 123.0,147.9 123.4,146.1 123.8,141.7 124.2,141.4 124.6,137.8 125.0,149.0 125.4,136.1 125.8,132.2 126.2,135.3 126.6,135.4 127.0,127.2 127.4,132.8 127.8,125.9 128.2,129.0 128.6,123.2 129.0,113.0 129.4,121.3 129.8,112.2 130.2,116.8 130.6,110.6 131.0,110.5 131.4,107.1 131.8,111.3 132.2,109.4 132.6,106.0 133.0,111.2 133.4,109.9 133.8,113.8 134.2,112.8 134.6,123.0 135.0,115.1 135.4,123.0 135.8,126.5 136.2,124.5 136.6,129.7 137.0,130.2 137.4,133.9 137.8,131.9 138.2,137.4 138.6,138.2 139.0,138.6 139.4,140.9 139.8,140.1 140.2,144.5 140.6,140.1 141.0,143.0 141.4,141.5 141.8,143.1 142.2,140.9 142.6,147.5 143.0,139.7 143.4,143.7 143.8,146.2 144.2,144.4 144.6,141.9 145.0,138.5 145.4,148.0 145.8,143.2 146.2,138.5 146.6,147.2 147.0,138.9 147.4,139.8 147.8,143.5 148.2,140.2 148.6,141.1 149.0,134.8 149.4,146.7 149.8,133.4 150.2,133.9 150.6,140.6 151.0,133.1 151.4,135.4 151.8,131.1 152.2,131.3 152.6,129.7 153.0,124.3 153.4,126.7 153.8,118.0 154.2,114.4 154.6,111.7 155.0,104.7 155.4,95.3 155.8,86.3 156.2,79.9 156.6,65.7 157.0,59.9 157.4,54.1 157.8,49.0 158.2,52.9 158.6,57.5 159.0,67.3 159.4,73.9 159.8,86.0 160.2,97.0 160.6,99.0 161.0,118.3 161.4,112.1 161.8,122.3 162.2,130.4 162.6,129.1 163.0,128.6 163.4,139.7 163.8,138.3 164.2,136.0 164.6,139.8 165.0,142.6 165.4,138.7 165.8,145.3 166.2,143.3 166.6,142.0 167.0,142.2 167.4,146.9 167.8,143.9 168.2,150.3 168.6,145.5 169.0,148.9 169.4,146.5 169.8,148.1 170.2,145.4 170.6,151.1 171.0,151.9 171.4,144.8 171.8,147.4 172.2,149.0 172.6,147.3 173.0,147.0 173.4,149.2 173.8,146.2 174.2,150.7 174.6,143.4 175.0,145.4 175.4,145.4 175.8,140.1 176.2,145.4 176.6,136.5 177.0,138.6 177.4,139.8 177.8,140.0 178.2,137.1 178.6,143.7 179.0,138.8 179.4,150.5 179.8,143.6 180.2,145.9 180.6,147.4 181.0,150.3 181.4,151.0 181.8,149.6 182.2,151.9 182.6,154.3 183.0,152.9 183.4,157.6 183.8,156.4 184.2,153.8 184.6,157.1 185.0,152.3 185.4,160.4 185.8,156.2 186.2,158.9 186.6,161.4 187.0,151.0 187.4,163.0 187.8,156.3 188.2,162.9 188.6,156.1 189.0,161.2 189.4,162.1 189.8,162.4 190.2,160.8 190.6,159.8 191.0,162.0 191.4,165.4 191.8,161.4 192.2,158.9 192.6,167.7 193.0,163.2 193.4,165.2 193.8,161.8 194.2,166.5 194.6,160.5 195.0,167.3 195.4,162.6 195.8,167.1 196.2,166.4 196.6,161.9 197.0,166.2 197.4,165.6 197.8,168.3 198.2,165.7 198.6,161.9 199.0,168.8 199.4,167.2 199.8,170.2 200.2,159.4 200.6,167.6 201.0,170.5 201.4,161.7 201.8,166.0 202.2,169.9 202.6,168.8 203.0,164.2 203.4,169.6 203.8,167.0 204.2,171.0 204.6,165.6 205.0,170.2 205.4,164.4 205.8,168.9 206.2,168.2 206.6,171.1 207.0,168.2 207.4,165.9 207.8,171.3 208.2,169.6 208.6,167.5 209.0,168.5 209.4,169.0 209.8,165.5 210.2,172.1 210.6,169.7 211.0,167.1 211.4,172.5 211.8,165.5 212.2,170.4 212.6,169.6 213.0,175.3 213.4,163.6 213.8,173.8 214.2,171.7 214.6,170.0 215.0,172.7 215.4,166.6 215.8,166.8 216.2,175.8 216.6,167.0 217.0,171.9 217.4,168.8 217.8,175.2 218.2,171.7 218.6,168.4 219.0,174.4 219.4,170.4 219.8,170.9 220.2,171.8 220.6,171.0 221.0,173.2 221.4,171.4 221.8,170.3 222.2,174.4 222.6,168.8 223.0,173.1 223.4,172.2 223.8,174.4 224.2,168.4 224.6,176.3 225.0,169.6 225.4,170.9 225.8,170.2 226.2,173.8 226.6,170.8 227.0,168.9 227.4,170.4 227.8,171.7 228.2,170.6 228.6,174.8 229.0,173.0 229.4,171.4 229.8,170.9 230.2,169.7 230.6,171.9 231.0,173.1 231.4,174.8 231.8,170.2 232.2,169.1 232.6,171.4 233.0,169.7 233.4,169.7 233.8,171.5 234.2,171.4 234.6,174.6 235.0,168.2 235.4,173.6 235.8,172.7 236.2,168.3 236.6,174.0 237.0,169.9 237.4,168.5 237.8,171.6 238.2,170.1 238.6,169.8 239.0,170.2 239.4,171.0 239.8,171.2 240.2,167.8 240.6,171.7 241.0,167.1 241.4,173.3 241.8,171.7 242.2,170.3 242.6,171.2 243.0,171.9 243.4,168.7 243.8,171.5 244.2,172.7 244.6,172.9 245.0,170.9 245.4,176.8 245.8,167.9 246.2,174.1 246.6,173.4 247.0,169.9 247.4,170.4 247.8,170.6 248.2,174.2 248.6,174.6 249.0,171.5 249.4,172.5 249.8,171.5 250.2,174.5 250.6,167.1 251.0,176.2 251.4,172.6 251.8,169.8 252.2,179.8 252.6,166.9 253.0,172.5 253.4,171.9 253.8,177.3 254.2,169.7 254.6,175.9 255.0,173.7 255.4,173.1 255.8,170.0 256.2,173.7 256.6,178.0 257.0,168.2 257.4,173.3 257.8,174.2 258.2,175.5 258.6,172.9 259.0,174.8 259.4,170.1 259.8,177.1 260.2,173.5 260.6,169.2 261.0,179.1 261.4,176.6 261.8,168.7 262.2,174.7 262.6,176.6 263.0,168.3 263.4,171.0 263.8,173.3 264.2,174.0 264.6,172.9 265.0,175.6 265.4,173.2 265.8,170.3 266.2,176.4 266.6,176.9 267.0,173.6 267.4,174.0 267.8,172.1 268.2,175.5 268.6,169.9 269.0,176.3 269.4,172.1 269.8,175.9 270.2,172.8 270.6,170.2 271.0,175.0 271.4,175.7 271.8,169.0 272.2,173.4 272.6,172.1 273.0,170.8 273.4,177.2 273.8,174.7 274.2,173.0 274.6,172.4 275.0,172.5 275.4,173.5 275.8,170.9 276.2,175.8 276.6,173.9 277.0,173.5 277.4,170.3 277.8,173.6 278.2,172.2 278.6,176.8 279.0,170.6 279.4,168.2 279.8,175.9 280.2,176.2 280.6,171.5 281.0,173.5 281.4,171.3 281.8,168.0 282.2,171.0 282.6,172.0 283.0,173.7 283.4,173.1 283.8,173.4 284.2,170.5 284.6,174.7 285.0,170.3 285.4,170.9 285.8,174.9 286.2,168.9 286.6,167.2 287.0,173.3 287.4,173.6 287.8,165.2 288.2,175.2 288.6,171.6 289.0,169.1 289.4,170.4 289.8,172.7 290.2,171.2 290.6,175.2 291.0,170.9 291.4,167.7 291.8,171.9 292.2,174.3 292.6,174.8 293.0,169.9 293.4,171.7 293.8,175.2 294.2,169.0 294.6,170.8 295.0,168.8 295.4,172.1 295.8,176.8 296.2,165.4 296.6,173.2 297.0,168.2 297.4,173.4 297.8,173.0 298.2,169.5 298.6,173.1 299.0,171.7 299.4,171.1 299.8,174.2 300.2,170.4 300.6,169.3 301.0,169.8 301.4,169.9 301.8,172.9 302.2,169.4 302.6,177.0 303.0,171.0 303.4,167.6 303.8,170.0 304.2,174.5 304.6,164.0 305.0,171.7 305.4,172.8 305.8,166.9 306.2,170.2 306.6,169.8 307.0,171.8 307.4,169.3 307.8,170.4 308.2,170.4 308.6,168.9 309.0,171.9 309.4,166.4 309.8,167.2 310.2,167.3 310.6,168.0 311.0,170.0 311.4,172.0 311.8,168.0 312.2,167.4 312.6,167.3 313.0,169.0 313.4,168.5 313.8,167.9 314.2,166.2 314.6,169.3 315.0,171.2 315.4,162.3 315.8,170.5 316.2,163.9 316.6,171.2 317.0,166.2 317.4,164.4 317.8,170.8 318.2,171.6 318.6,165.6 319.0,170.1 319.4,166.0 319.8,163.1 320.2,171.4 320.6,166.0 321.0,164.9 321.4,171.0 321.8,167.0 322.2,165.9 322.6,169.9 323.0,164.4 323.4,169.9 323.8,164.5 324.2,169.7 324.6,164.3 325.0,171.9 325.4,166.0 325.8,170.0 326.2,163.7 326.6,167.3 327.0,169.7 327.4,160.8 327.8,168.5 328.2,170.9 328.6,167.0 329.0,168.8 329.4,165.4 329.8,168.9 330.2,165.0 330.6,165.3 331.0,165.4 331.4,168.3 331.8,166.8 332.2,166.6 332.6,160.8 333.0,167.6 333.4,168.7 333.8,168.6 334.2,165.7 334.6,166.2 335.0,163.5 335.4,173.7 335.8,162.4 336.2,172.2 336.6,168.5 337.0,165.9 337.4,165.8 337.8,168.3 338.2,164.7 338.6,169.3 339.0,167.0 339.4,168.5 339.8,168.7 340.2,169.8 340.6,164.4 341.0,170.1 341.4,164.4 341.8,166.5 342.2,167.2 342.6,166.1 343.0,170.7 343.4,168.1 343.8,168.9 344.2,165.8 344.6,168.0 345.0,165.9 345.4,165.8 345.8,169.9 346.2,167.5 346.6,164.8 347.0,170.1 347.4,163.1 347.8,169.3 348.2,166.4 348.6,167.2 349.0,166.0 349.4,170.9 349.8,167.6 350.2,169.4 350.6,166.4 351.0,164.8 351.4,168.5 351.8,165.7 352.2,170.2 352.6,169.7 353.0,167.0 353.4,166.2 353.8,167.8 354.2,168.8 354.6,164.6 355.0,170.0 355.4,168.2 355.8,166.6 356.2,167.8 356.6,168.9 357.0,166.2 357.4,167.4 357.8,170.8 358.2,167.7 358.6,171.4 359.0,164.1 359.4,165.8 359.8,172.5 360.2,169.1 360.6,165.6 361.0,166.3 361.4,170.1 361.8,164.9 362.2,169.9 362.6,164.4 363.0,170.7 363.4,164.5 363.8,170.7 364.2,172.0 364.6,166.2 365.0,170.6 365.4,166.4 365.8,167.6 366.2,166.7 366.6,172.7 367.0,167.3 367.4,172.2 367.8,164.4 368.2,169.8 368.6,169.3 369.0,171.6 369.4,170.9 369.8,165.3 370.2,167.4 370.6,166.7 371.0,173.8 371.4,167.1 371.8,167.7 372.2,169.6 372.6,163.8 373.0,168.6 373.4,173.0 373.8,168.7 374.2,168.8 374.6,166.8 375.0,171.5 375.4,172.0 375.8,164.4 376.2,170.6 376.6,168.2 377.0,170.4 377.4,168.7 377.8,168.8 378.2,167.5 378.6,170.1 379.0,167.8 379.4,169.5 379.8,169.0 380.2,170.2 380.6,166.7 381.0,168.4 381.4,170.5 381.8,165.6 382.2,166.4 382.6,167.8 383.0,164.2 383.4,163.3 383.8,162.6 384.2,158.4 384.6,162.7 385.0,161.8 385.4,159.0 385.8,155.9 386.2,162.8 386.6,158.9 387.0,162.5 387.4,163.2 387.8,160.6 388.2,167.6 388.6,161.8 389.0,165.1 389.4,163.5 389.8,164.9 390.2,163.7 390.6,158.7 391.0,165.5 391.4,159.9 391.8,166.9 392.2,168.2 392.6,168.2 393.0,169.7 393.4,166.8 393.8,170.9 394.2,170.3 394.6,173.5 395.0,173.1 395.4,169.2 395.8,178.3 396.2,167.9 396.6,172.0 397.0,174.6 397.4,173.9 397.8,173.5 398.2,171.6 398.6,177.5 399.0,172.3 399.4,177.1 399.8,175.2 400.2,170.2 400.6,174.2 401.0,173.9 401.4,176.6 401.8,174.9 402.2,175.7 402.6,173.4 403.0,177.3 403.4,178.0 403.8,171.5 404.2,177.1 404.6,176.8 405.0,175.6 405.4,176.1 405.8,180.2 406.2,177.0 406.6,176.9 407.0,174.3 407.4,182.3 407.8,175.1 408.2,175.6 408.6,177.3 409.0,176.8 409.4,182.2 409.8,175.4 410.2,177.5 410.6,173.4 411.0,181.8 411.4,174.9 411.8,177.0 412.2,180.6 412.6,175.7 413.0,180.9 413.4,179.5 413.8,173.4 414.2,180.2 414.6,175.5 415.0,180.2 415.4,180.4 415.8,174.8 416.2,183.8 416.6,176.0 417.0,176.8 417.4,179.9 417.8,180.5 418.2,175.2 418.6,180.5 419.0,176.2 419.4,183.0 419.8,177.9 420.2,178.0 420.6,181.6 421.0,175.3 421.4,179.8 421.8,183.1 422.2,176.6 422.6,181.9 423.0,177.8 423.4,177.4 423.8,179.4 424.2,179.5 424.6,178.1 425.0,177.9 425.4,178.4 425.8,177.0 426.2,180.9 426.6,179.5 427.0,179.8 427.4,174.4 427.8,182.5 428.2,177.8 428.6,175.9 429.0,180.5 429.4,180.0 429.8,178.6 430.2,179.2 430.6,179.4 431.0,178.9 431.4,177.1 431.8,174.1 432.2,179.0 432.6,179.5 433.0,176.5 433.4,179.6 433.8,178.4 434.2,176.6 434.6,180.9 435.0,173.1 435.4,180.0 435.8,174.9 436.2,175.8 436.6,178.6 437.0,174.5 437.4,178.6 437.8,172.8 438.2,177.3 438.6,174.0 439.0,176.0 439.4,174.8 439.8,173.3 440.2,177.4 440.6,171.5 441.0,174.0 441.4,177.0 441.8,174.8 442.2,173.9 442.6,173.4 443.0,177.3 443.4,168.2 443.8,172.9 444.2,171.7 444.6,175.4 445.0,171.9 445.4,174.0 445.8,172.7 446.2,170.4 446.6,170.5 447.0,170.8 447.4,177.0 447.8,170.9 448.2,171.6 448.6,170.2 449.0,171.5 449.4,171.1 449.8,171.3 450.2,167.4 450.6,174.3 451.0,171.1 451.4,172.9 451.8,172.1 452.2,173.6 452.6,171.4 453.0,174.1 453.4,167.0 453.8,173.8 454.2,177.7 454.6,169.1 455.0,174.5 455.4,175.5 455.8,171.6 456.2,176.7 456.6,171.0 457.0,172.8 457.4,174.7 457.8,173.6 458.2,177.4 458.6,175.2 459.0,177.0 459.4,173.9 459.8,182.2 460.2,173.6 460.6,176.9 461.0,178.1 461.4,176.4 461.8,176.7 462.2,178.7 462.6,179.6 463.0,178.4 463.4,179.4 463.8,176.4 464.2,177.9 464.6,183.6 465.0,176.4 465.4,180.4 465.8,180.3 466.2,181.4 466.6,175.5 467.0,180.4 467.4,179.7 467.8,180.0 468.2,176.0 468.6,182.8 469.0,175.1 469.4,184.3 469.8,181.3 470.2,181.2 470.6,177.8 471.0,184.0 471.4,178.2 471.8,179.6 472.2,180.6 472.6,180.6 473.0,182.4 473.4,182.5 473.8,176.4 474.2,182.6 474.6,183.6 475.0,180.7 475.4,182.1 475.8,178.0 476.2,184.9 476.6,177.5 477.0,183.6 477.4,183.8 477.8,183.5 478.2,180.4 478.6,182.6 479.0,179.5 479.4,181.4 479.8,184.3 480.2,180.3 480.6,181.4 481.0,179.2 481.4,183.5 481.8,182.7 482.2,179.5 482.6,181.6 483.0,185.1 483.4,180.2 483.8,180.9 484.2,179.9 484.6,181.8 485.0,181.9 485.4,184.4 485.8,179.0 486.2,185.6 486.6,177.9 487.0,181.9 487.4,183.5 487.8,180.2 488.2,180.2 488.6,182.2 489.0,182.4 489.4,177.8 489.8,182.8 490.2,181.4 490.6,180.7 491.0,183.0 491.4,179.3 491.8,181.1 492.2,181.5 492.6,182.3 493.0,179.7 493.4,183.8 493.8,177.3 494.2,183.9 494.6,177.4 495.0,180.9 495.4,181.0 495.8,183.3 496.2,179.2 496.6,177.9 497.0,182.2 497.4,177.4 497.8,177.8 498.2,180.5 498.6,178.3 499.0,180.1 499.4,176.2 499.8,179.4 500.2,178.6 500.6,177.5 501.0,177.2 501.4,176.2 501.8,179.8 502.2,176.5 502.6,178.0 503.0,176.0 503.4,177.6 503.8,175.3 504.2,178.6 504.6,178.6 505.0,176.8 505.4,179.0 505.8,177.3 506.2,180.0 506.6,176.2 507.0,175.4 507.4,180.9 507.8,177.8 508.2,177.1 508.6,181.1 509.0,178.8 509.4,179.8 509.8,178.3 510.2,180.3 510.6,180.0 511.0,182.8 511.4,176.9 511.8,180.9 512.2,181.0 512.6,177.0 513.0,179.6 513.4,186.2 513.8,175.3 514.2,183.8 514.6,178.9 515.0,180.6 515.4,178.4 515.8,181.8 516.2,183.7 516.6,178.1 517.0,184.0 517.4,181.5 517.8,184.9 518.2,178.7 518.6,184.5 519.0,182.0 519.4,180.4 519.8,179.3 520.2,186.5 520.6,178.0 521.0,182.8 521.4,184.3 521.8,183.3 522.2,179.7 522.6,183.3 523.0,182.1 523.4,185.0 523.8,185.9 524.2,177.3 524.6,186.4 525.0,177.5 525.4,186.0 525.8,181.1 526.2,187.8 526.6,181.4 527.0,181.8 527.4,183.2 527.8,182.9 528.2,184.4 528.6,183.1 529.0,184.9 529.4,185.7 529.8,183.3 530.2,180.9 530.6,182.3 531.0,184.3 531.4,186.6 531.8,182.3 532.2,183.2 532.6,185.0 533.0,181.5 533.4,183.6 533.8,186.3 534.2,183.1 534.6,183.8 535.0,185.3 535.4,182.9 535.8,183.7 536.2,184.3 536.6,185.9 537.0,183.9 537.4,182.3 537.8,185.2 538.2,185.9 538.6,187.1 539.0,180.6 539.4,186.3 539.8,183.8 540.2,186.3 540.6,184.5 541.0,186.7 541.4,184.0 541.8,183.2 542.2,184.3 542.6,186.0"/>
</g>
<g fill="none" stroke-linejoin="round" stroke-width="1.9">
<polyline stroke="#0000ff" points="124.2,317.8 124.6,308.6 125.0,310.5 125.4,311.6 125.8,311.0 126.2,304.8 126.6,308.2 127.0,303.7 127.4,306.8 127.8,296.4 128.2,301.9 128.6,293.5 129.0,293.1 129.4,292.0 129.8,289.2 130.2,290.1 130.6,288.9 131.0,286.3 131.4,287.0 131.8,288.0 132.2,286.2 132.6,288.2 133.0,288.9 133.4,288.7 133.8,296.4 134.2,290.4 134.6,301.0 135.0,298.2 135.4,304.1 135.8,301.1 136.2,302.8 136.6,308.9 137.0,305.8 137.4,309.7 137.8,310.8 138.2,310.9 138.6,311.9 139.0,310.8 139.4,314.3 139.8,308.0 140.2,317.3 140.6,311.2 141.0,319.8 141.4,316.4 141.8,307.0 142.2,318.5 142.6,314.2 143.0,312.0 143.4,318.0 143.8,312.4 144.2,310.2 144.6,316.6 145.0,314.2 145.4,314.5 145.8,310.0 146.2,317.2 146.6,314.1 147.0,308.3 147.4,312.4 147.8,312.8 148.2,310.0 148.6,316.8 149.0,307.9 149.4,306.4 149.8,308.3 150.2,309.1 150.6,313.6 151.0,301.5 151.4,305.3 151.8,304.4 152.2,300.5 152.6,305.8 153.0,291.6 153.4,296.6 153.8,289.1 154.2,286.4 154.6,275.5 155.0,278.1 155.4,261.6 155.8,255.1 156.2,242.8 156.6,233.3 157.0,224.2 157.4,213.9 157.8,206.2 158.2,203.5 158.6,203.9 159.0,209.0 159.4,219.3 159.8,228.9 160.2,239.1 160.6,252.2 161.0,262.4 161.4,268.4 161.8,276.0 162.2,285.9 162.6,292.7 163.0,289.6 163.4,296.8 163.8,299.3 164.2,305.5 164.6,296.6 165.0,309.5 165.4,309.4 165.8,303.6 166.2,314.5 166.6,308.9 167.0,308.2 167.4,312.9 167.8,307.4 168.2,313.6 168.6,319.2 169.0,308.1 169.4,320.7 169.8,311.2 170.2,317.7 170.6,313.5 171.0,309.0 171.4,317.6 171.8,316.9 172.2,311.7 172.6,313.0 173.0,317.3 173.4,310.5 173.8,307.7 174.2,310.3 174.6,310.7 175.0,302.1 175.4,306.1 175.8,303.8 176.2,298.0 176.6,297.8 177.0,300.8 177.4,307.0 177.8,310.1 178.2,309.7 178.6,314.0 179.0,313.0 179.4,318.5 179.8,316.6 180.2,319.3 180.6,317.2 181.0,318.7"/>
<polyline stroke="#ff0000" points="124.2,228.9 124.6,232.1 125.0,233.9 125.4,230.8 125.8,235.4 126.2,229.7 126.6,227.4 127.0,230.3 127.4,221.0 127.8,229.9 128.2,226.4 128.6,221.6 129.0,220.4 129.4,222.6 129.8,222.3 130.2,215.5 130.6,213.7 131.0,218.1 131.4,209.5 131.8,214.6 132.2,210.8 132.6,212.8 133.0,209.8 133.4,213.4 133.8,211.3 134.2,210.2 134.6,212.3 135.0,216.3 135.4,218.9 135.8,216.4 136.2,219.2 136.6,220.1 137.0,224.3 137.4,223.5 137.8,225.2 138.2,223.5 138.6,232.2 139.0,230.4 139.4,224.3 139.8,238.6 140.2,229.7 140.6,229.6 141.0,228.4 141.4,237.7 141.8,233.8 142.2,231.2 142.6,230.1 143.0,239.6 143.4,230.7 143.8,233.7 144.2,241.8 144.6,234.9 145.0,232.8 145.4,230.7 145.8,235.5 146.2,225.9 146.6,236.2 147.0,229.8 147.4,229.3 147.8,228.8 148.2,234.0 148.6,228.9 149.0,228.9 149.4,229.6 149.8,223.1 150.2,223.5 150.6,221.3 151.0,224.1 151.4,222.6 151.8,216.2 152.2,216.5 152.6,207.1 153.0,206.9 153.4,199.4 153.8,191.7 154.2,190.3 154.6,174.3 155.0,161.0 155.4,150.0 155.8,137.6 156.2,121.8 156.6,113.1 157.0,101.1 157.4,99.0 157.8,99.4 158.2,107.3 158.6,116.9 159.0,130.3 159.4,145.2 159.8,158.5 160.2,171.3 160.6,182.5 161.0,194.6 161.4,199.1 161.8,204.1 162.2,213.2 162.6,212.6 163.0,223.3 163.4,220.7 163.8,219.5 164.2,229.5 164.6,228.0 165.0,220.7 165.4,231.8 165.8,230.6 166.2,227.4 166.6,232.6 167.0,232.4 167.4,236.5 167.8,234.4 168.2,241.1 168.6,230.4 169.0,239.3 169.4,234.6 169.8,237.0 170.2,233.3 170.6,233.7 171.0,237.7 171.4,239.7 171.8,239.2 172.2,235.2 172.6,235.9 173.0,232.0 173.4,239.3 173.8,234.5 174.2,229.3 174.6,232.8 175.0,229.3 175.4,236.9 175.8,230.8 176.2,231.8 176.6,234.7 177.0,235.1 177.4,234.1 177.8,234.5 178.2,236.8 178.6,236.8 179.0,243.9 179.4,245.8 179.8,234.1 180.2,245.2 180.6,243.7 181.0,240.3"/>
<polyline stroke="#000000" points="124.2,141.4 124.6,137.8 125.0,149.0 125.4,136.1 125.8,132.2 126.2,135.3 126.6,135.4 127.0,127.2 127.4,132.8 127.8,125.9 128.2,129.0 128.6,123.2 129.0,113.0 129.4,121.3 129.8,112.2 130.2,116.8 130.6,110.6 131.0,110.5 131.4,107.1 131.8,111.3 132.2,109.4 132.6,106.0 133.0,111.2 133.4,109.9 133.8,113.8 134.2,112.8 134.6,123.0 135.0,115.1 135.4,123.0 135.8,126.5 136.2,124.5 136.6,129.7 137.0,130.2 137.4,133.9 137.8,131.9 138.2,137.4 138.6,138.2 139.0,138.6 139.4,140.9 139.8,140.1 140.2,144.5 140.6,140.1 141.0,143.0 141.4,141.5 141.8,143.1 142.2,140.9 142.6,147.5 143.0,139.7 143.4,143.7 143.8,146.2 144.2,144.4 144.6,141.9 145.0,138.5 145.4,148.0 145.8,143.2 146.2,138.5 146.6,147.2 147.0,138.9 147.4,139.8 147.8,143.5 148.2,140.2 148.6,141.1 149.0,134.8 149.4,146.7 149.8,133.4 150.2,133.9 150.6,140.6 151.0,133.1 151.4,135.4 151.8,131.1 152.2,131.3 152.6,129.7 153.0,124.3 153.4,126.7 153.8,118.0 154.2,114.4 154.6,111.7 155.0,104.7 155.4,95.3 155.8,86.3 156.2,79.9 156.6,65.7 157.0,59.9 157.4,54.1 157.8,49.0 158.2,52.9 158.6,57.5 159.0,67.3 159.4,73.9 159.8,86.0 160.2,97.0 160.6,99.0 161.0,118.3 161.4,112.1 161.8,122.3 162.2,130.4 162.6,129.1 163.0,128.6 163.4,139.7 163.8,138.3 164.2,136.0 164.6,139.8 165.0,142.6 165.4,138.7 165.8,145.3 166.2,143.3 166.6,142.0 167.0,142.2 167.4,146.9 167.8,143.9 168.2,150.3 168.6,145.5 169.0,148.9 169.4,146.5 169.8,148.1 170.2,145.4 170.6,151.1 171.0,151.9 171.4,144.8 171.8,147.4 172.2,149.0 172.6,147.3 173.0,147.0 173.4,149.2 173.8,146.2 174.2,150.7 174.6,143.4 175.0,145.4 175.4,145.4 175.8,140.1 176.2,145.4 176.6,136.5 177.0,138.6 177.4,139.8 177.8,140.0 178.2,137.1 178.6,143.7 179.0,138.8 179.4,150.5 179.8,143.6 180.2,145.9 180.6,147.4 181.0,150.3"/>
</g>
<rect x="51.6" y="7.6" width="491.9" height="363.7" fill="none" stroke="#000" stroke-width="2.6"/>
<g stroke="#000" stroke-width="2.4"><line x1="100.4" y1="371.3" x2="100.4" y2="365.3" /><line x1="149.7" y1="371.3" x2="149.7" y2="367.8" /><line x1="198.9" y1="371.3" x2="198.9" y2="365.3" /><line x1="248.1" y1="371.3" x2="248.1" y2="367.8" /><line x1="297.4" y1="371.3" x2="297.4" y2="365.3" /><line x1="346.6" y1="371.3" x2="346.6" y2="367.8" /><line x1="395.8" y1="371.3" x2="395.8" y2="365.3" /><line x1="445.0" y1="371.3" x2="445.0" y2="367.8" /><line x1="494.3" y1="371.3" x2="494.3" y2="365.3" /></g>
<g font-size="23"><text x="100.4" y="398" text-anchor="middle">30</text><text x="198.9" y="398" text-anchor="middle">40</text><text x="297.4" y="398" text-anchor="middle">50</text><text x="395.8" y="398" text-anchor="middle">60</text><text x="494.3" y="398" text-anchor="middle">70</text></g>
<text x="296" y="440.5" font-size="31.7" text-anchor="middle">2θ (°)</text>
<text transform="translate(32,210.2) rotate(-90)" font-size="31.5" text-anchor="middle">Intensity (a.u.)</text>
<g font-size="19.5">
<text x="161.6" y="41" text-anchor="middle">(002)</text>
<text x="125.3" y="96.3" text-anchor="middle">(100)</text>
<text x="188.7" y="127" text-anchor="middle">(101)</text>
<text x="387.4" y="148" text-anchor="middle">(110)</text>
<text x="451" y="163" text-anchor="middle">(103)</text>
</g>
<g stroke-width="1.6">
<line x1="391.5" y1="43.5" x2="434.5" y2="43.5" stroke="#000"/>
<line x1="391.5" y1="67.9" x2="434.5" y2="67.9" stroke="#ff0000"/>
<line x1="391.5" y1="92.1" x2="434.5" y2="92.1" stroke="#0000ff"/>
</g>
<g font-size="19.5" font-weight="bold">
<text x="439.5" y="50">Si(100)</text>
<text x="439.5" y="75" letter-spacing="0.35">Si(111)</text>
<text x="439.5" y="99.5">Sapphire</text>
</g>
</svg>
</body></html>
